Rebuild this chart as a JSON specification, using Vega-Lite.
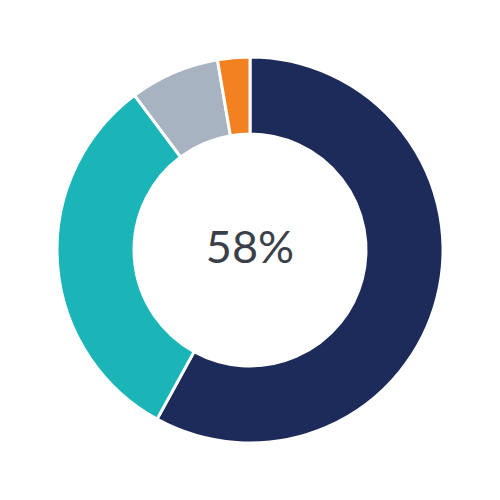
{
  "$schema": "https://vega.github.io/schema/vega-lite/v6.json",
  "width": 500,
  "height": 500,
  "padding": 0,
  "autosize": {"type": "fit", "contains": "padding"},
  "background": "white",
  "view": {"stroke": null},
  "data": {
    "values": [
      {"segment": "A", "value": 58, "rank": 1},
      {"segment": "B", "value": 31.8, "rank": 2},
      {"segment": "C", "value": 7.5, "rank": 3},
      {"segment": "D", "value": 2.7, "rank": 4}
    ]
  },
  "layer": [
    {
      "mark": {"type": "arc", "radius": 193, "radius2": 116, "stroke": "white", "strokeWidth": 3},
      "encoding": {
        "theta": {"field": "value", "type": "quantitative", "stack": true},
        "order": {"field": "rank", "type": "quantitative"},
        "color": {
          "field": "segment",
          "type": "nominal",
          "scale": {"domain": ["A", "B", "C", "D"], "range": ["#1c2b5a", "#1bb5b7", "#a8b3c1", "#f38120"]},
          "legend": null
        }
      }
    },
    {
      "data": {"values": [{"t": "58%"}]},
      "mark": {"type": "text", "font": "Lato", "fontSize": 45, "color": "#3b3f49", "baseline": "alphabetic"},
      "encoding": {
        "text": {"field": "t"},
        "x": {"value": 250},
        "y": {"value": 263}
      }
    }
  ]
}
